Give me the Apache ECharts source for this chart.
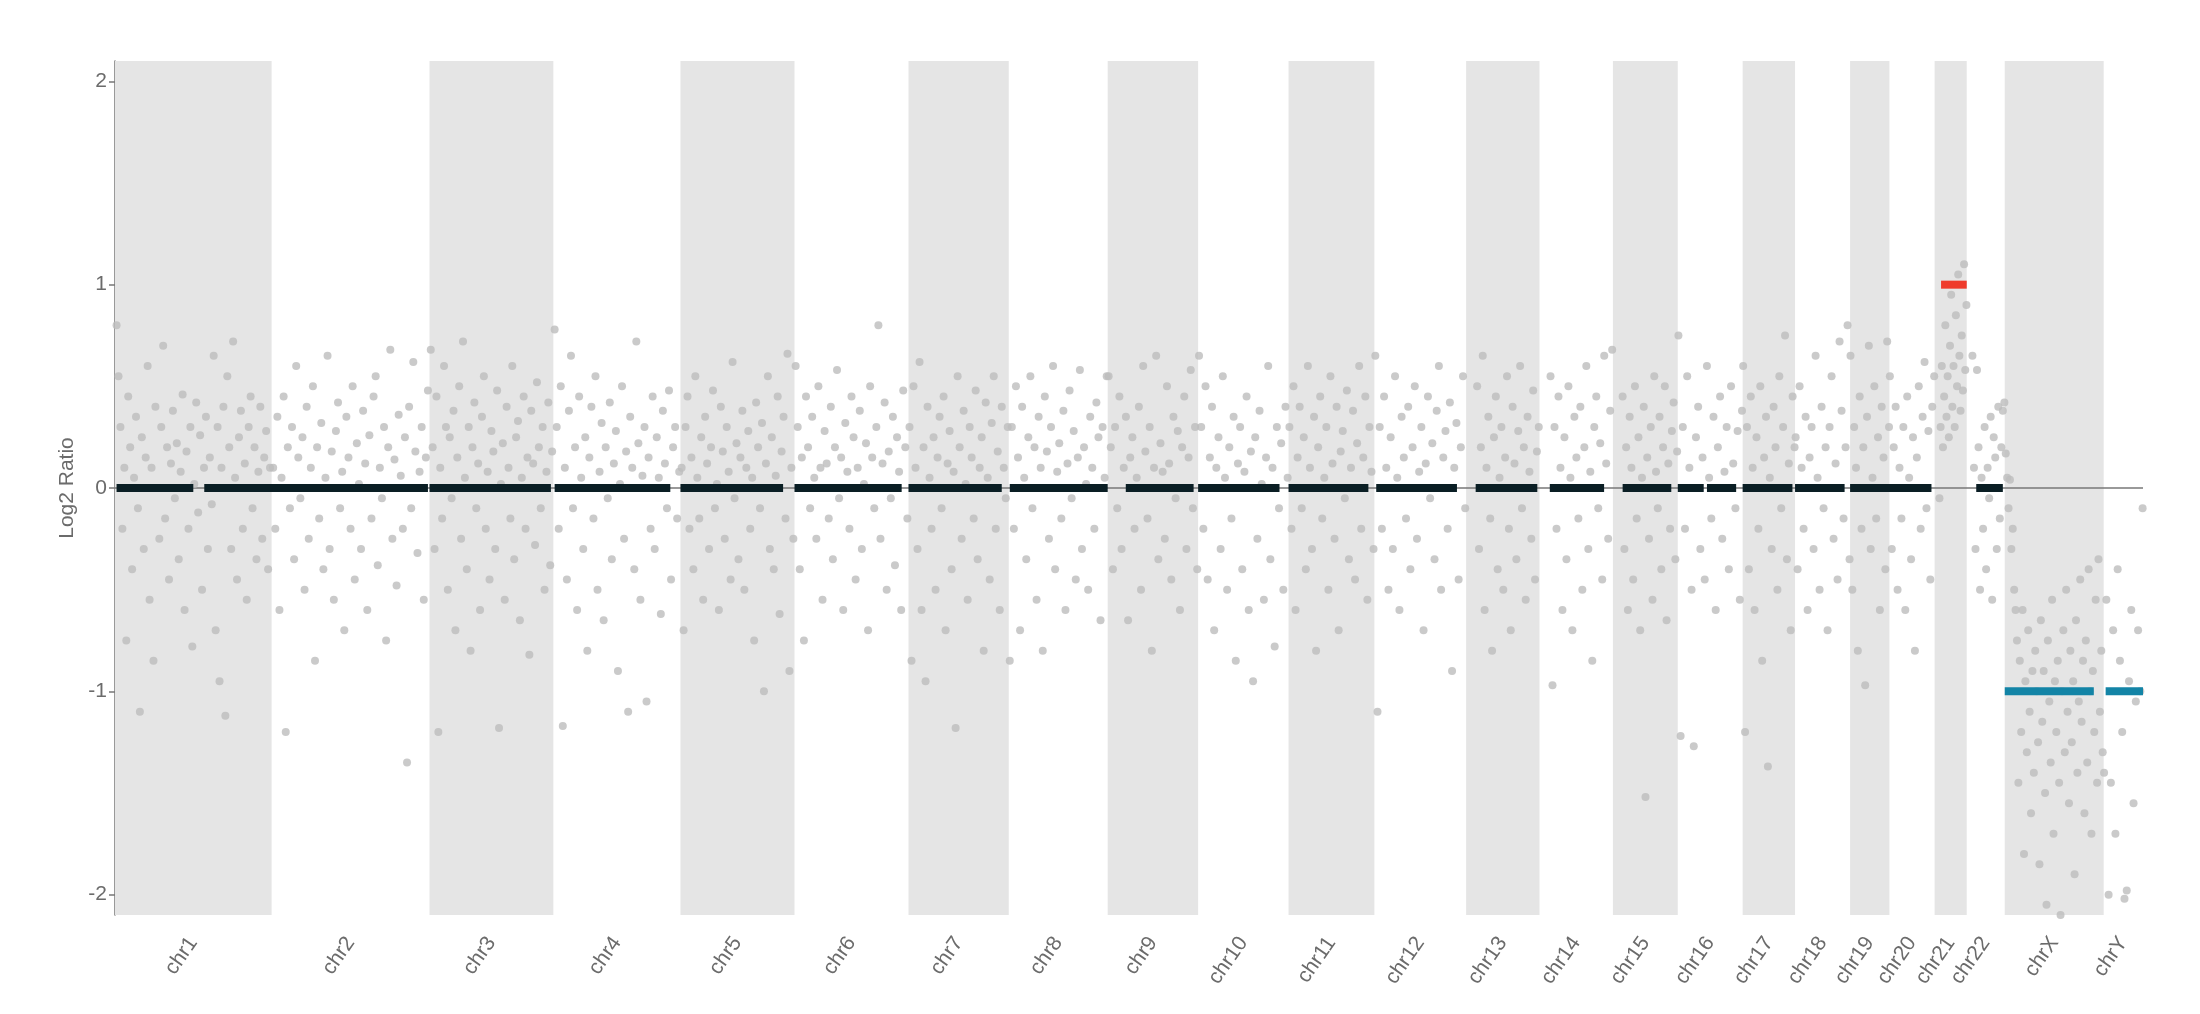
<!DOCTYPE html>
<html><head><meta charset="utf-8">
<script src="https://cdn.jsdelivr.net/npm/echarts@6/dist/echarts.min.js"></script>
<style>html,body{margin:0;padding:0;background:#fff}#c{width:2200px;height:1014px}</style>
</head><body><div id="c"></div>
<script>
const chromNames = ['chr1','chr2','chr3','chr4','chr5','chr6','chr7','chr8','chr9','chr10','chr11','chr12','chr13','chr14','chr15','chr16','chr17','chr18','chr19','chr20','chr21','chr22','chrX','chrY'];
const chromLengths = [239,241,189,194,174,174,153,151,138,138,131,140,112,112,99,99,80,84,60,69,49,58,151,60];
const yTicks = [-2,-1,0,1,2];
// segments: [chrom index, start fraction, end fraction, log2 value]
const segmentsNormal = [[0,0.01,0.5],[0,0.57,1],[1,0,0.99],[2,0,0.98],[3,0.01,0.92],[4,0,0.9],[5,0,0.94],[6,0,0.93],[7,0.01,1],[8,0.2,0.95],[9,0,0.9],[10,0,0.93],[11,0.02,0.9],[12,0.13,0.97],[13,0.14,0.88],[14,0.15,0.9],[15,0,0.4],[15,0.45,0.9],[16,0,0.95],[17,0,0.9],[18,0,1],[19,0,0.93],[21,0.25,0.95]];
const segmentsGain = [[20,0.2,1.0,1.0]];
const segmentsLoss = [[22,0,0.9,-1],[23,0.05,1,-1]];
const v1=[0.8,0.55,0.3,-0.2,0.1,-0.75,0.45,0.2,-0.4,0.05,0.35,-0.1,-1.1,0.25,-0.3,0.15,0.6,-0.55,0.1,-0.85,0.4,0.0,-0.25,0.3,0.7,-0.15,0.2,-0.45,0.12,0.38,-0.05,0.22,-0.35,0.08,0.46,-0.6,0.18,-0.2,0.3,-0.78,0.02,0.42,-0.12,0.26,-0.5,0.1,0.35,-0.3,0.15,-0.08,0.65,-0.7,0.3,-0.95,0.1,0.4,-1.12,0.55,0.2,-0.3,0.72,0.05,-0.45,0.25,0.38,-0.2,0.12,-0.55,0.3,0.45,-0.1,0.2,-0.35,0.08,0.4,-0.25,0.15,0.28,-0.4,0.1];
const v2=[0.1,-0.2,0.35,-0.6,0.05,0.45,-1.2,0.2,-0.1,0.3,-0.35,0.6,0.15,-0.05,0.25,-0.5,0.4,-0.25,0.1,0.5,-0.85,0.2,-0.15,0.32,-0.4,0.05,0.65,-0.3,0.18,-0.55,0.28,0.42,-0.1,0.08,-0.7,0.35,0.15,-0.2,0.5,-0.45,0.22,0.02,-0.3,0.38,0.12,-0.6,0.26,-0.15,0.45,0.55,-0.38,0.1,-0.05,0.3,-0.75,0.2,0.68,-0.25,0.14,-0.48,0.36,0.06,-0.2,0.25,-1.35,0.4,-0.1,0.62,0.18,-0.32,0.08,0.3,-0.55,0.15,0.48];
const v3=[0.68,0.2,-0.3,0.45,-1.2,0.1,-0.15,0.6,0.3,-0.5,0.25,-0.05,0.38,-0.7,0.15,0.5,-0.25,0.72,0.05,-0.4,0.3,-0.8,0.2,0.42,-0.1,0.12,-0.6,0.35,0.55,-0.2,0.08,-0.45,0.28,0.18,-0.3,0.48,-1.18,0.02,0.22,-0.55,0.4,0.1,-0.15,0.6,-0.35,0.25,0.33,-0.65,0.05,0.45,-0.2,0.15,-0.82,0.38,0.12,-0.28,0.52,0.2,-0.1,0.3,-0.5,0.08,0.42,-0.38,0.18];
const v4=[0.78,0.3,-0.2,0.5,-1.17,0.1,-0.45,0.38,0.65,-0.1,0.2,-0.6,0.45,0.05,-0.3,0.25,-0.8,0.15,0.4,-0.15,0.55,-0.5,0.08,0.32,-0.65,0.2,-0.05,0.42,-0.35,0.12,0.28,-0.9,0.02,0.5,-0.25,0.18,-1.1,0.35,0.1,-0.4,0.72,0.22,-0.55,0.06,0.3,-1.05,0.15,-0.2,0.45,-0.3,0.25,0.05,-0.62,0.38,0.12,-0.1,0.48,-0.45,0.2,0.3,-0.15,0.08];
const v5=[0.1,-0.7,0.3,0.45,-0.2,0.15,-0.4,0.55,0.05,-0.15,0.25,-0.55,0.35,0.12,-0.3,0.2,0.48,-0.1,0.02,-0.6,0.4,0.18,-0.25,0.3,0.08,-0.45,0.62,-0.05,0.22,-0.35,0.15,0.38,-0.5,0.1,0.28,-0.2,0.05,-0.75,0.42,0.2,-0.1,0.32,-1.0,0.12,0.55,-0.3,0.25,-0.4,0.06,0.45,-0.62,0.18,0.35,-0.15,0.66,-0.9,0.1,-0.25];
const v6=[0.6,0.3,-0.4,0.15,-0.75,0.45,0.2,-0.1,0.35,0.05,-0.25,0.5,0.1,-0.55,0.28,0.12,-0.15,0.4,-0.35,0.2,0.58,-0.05,0.15,-0.6,0.32,0.08,-0.2,0.45,0.25,-0.45,0.1,0.38,-0.3,0.02,0.22,-0.7,0.5,0.15,-0.1,0.3,0.8,-0.25,0.12,0.42,-0.5,0.18,-0.05,0.35,-0.38,0.25,0.08,-0.6,0.48,0.2,-0.15];
const v7=[0.3,-0.85,0.5,0.1,-0.3,0.62,-0.6,0.2,-0.95,0.4,0.05,-0.2,0.25,-0.5,0.15,0.35,-0.1,0.45,-0.7,0.12,0.28,-0.4,0.08,-1.18,0.55,0.2,-0.25,0.38,0.02,-0.55,0.3,0.15,-0.15,0.48,-0.35,0.1,0.25,-0.8,0.42,0.05,-0.45,0.32,0.55,-0.2,0.18,-0.6,0.4,0.1,-0.05,0.3];
const v8=[-0.85,0.3,-0.2,0.5,0.15,-0.7,0.4,0.05,-0.35,0.25,0.55,-0.1,0.2,-0.55,0.35,0.1,-0.8,0.45,0.18,-0.25,0.3,0.6,-0.4,0.08,0.22,-0.15,0.38,-0.6,0.12,0.48,-0.05,0.28,-0.45,0.15,0.58,-0.3,0.2,0.02,-0.5,0.35,0.1,-0.2,0.42,0.25,-0.65,0.3,0.05,0.55];
const v9=[0.55,0.2,-0.4,0.3,-0.1,0.45,-0.3,0.1,0.35,-0.65,0.15,0.25,-0.2,0.05,0.4,-0.5,0.6,0.18,-0.15,0.3,-0.8,0.1,0.65,-0.35,0.22,0.08,-0.25,0.5,0.12,-0.45,0.35,-0.05,0.28,-0.6,0.2,0.45,-0.3,0.15,0.58,-0.1,0.3,-0.4];
const v10=[0.65,0.3,-0.2,0.5,-0.45,0.15,0.4,-0.7,0.1,0.25,-0.3,0.55,0.05,-0.5,0.2,-0.15,0.35,-0.85,0.12,0.3,-0.4,0.08,0.45,-0.6,0.18,-0.95,0.25,-0.25,0.38,0.02,-0.55,0.15,0.6,-0.35,0.1,-0.78,0.3,-0.1,0.22,-0.5,0.4,0.05];
const v11=[0.3,-0.2,0.5,-0.6,0.15,0.4,-0.1,0.25,-0.4,0.6,0.1,-0.3,0.35,-0.8,0.2,0.45,-0.15,0.05,0.3,-0.5,0.55,0.12,-0.25,0.4,-0.7,0.18,0.28,-0.05,0.48,-0.35,0.1,0.38,-0.45,0.22,0.6,-0.2,0.15,0.45,-0.55,0.3,0.08,-0.3];
const v12=[0.65,-1.1,0.3,-0.2,0.45,0.1,-0.5,0.25,-0.3,0.55,0.05,-0.6,0.35,0.15,-0.15,0.4,-0.4,0.2,0.5,-0.25,0.08,0.3,-0.7,0.12,0.45,-0.05,0.22,-0.35,0.38,0.6,-0.5,0.15,0.28,-0.2,0.42,-0.9,0.1,0.32,-0.45,0.2,0.55,-0.1];
const v13=[0.5,-0.3,0.2,0.65,-0.6,0.1,0.35,-0.15,-0.8,0.25,0.45,-0.4,0.05,0.3,-0.5,0.15,0.55,-0.2,-0.7,0.4,0.12,-0.35,0.28,0.6,-0.1,0.2,-0.55,0.35,0.08,-0.25,0.48,-0.45,0.18,0.3];
const v14=[0.55,-0.97,0.3,-0.2,0.45,0.1,-0.6,0.25,-0.35,0.5,0.05,-0.7,0.35,0.15,-0.15,0.4,-0.5,0.2,0.6,-0.3,0.08,-0.85,0.3,0.45,-0.1,0.22,-0.45,0.65,0.12,-0.25,0.38,0.68];
const v15=[0.45,-0.3,0.2,-0.6,0.35,0.1,-0.45,0.5,-0.15,0.25,-0.7,0.05,0.4,-1.52,0.15,-0.25,0.3,-0.55,0.55,0.08,-0.1,0.35,-0.4,0.2,0.5,-0.65,0.12,-0.2,0.28,0.42,-0.35,0.18];
const v16=[0.75,-1.22,0.3,-0.2,0.55,0.1,-0.5,-1.27,0.25,0.4,-0.3,0.15,-0.45,0.6,0.05,-0.15,0.35,-0.6,0.2,0.45,-0.25,0.08,0.3,-0.4,0.5,0.12,-0.1,0.28,-0.55,0.38];
const v17=[0.6,-1.2,0.3,-0.4,0.45,0.1,-0.6,0.25,-0.2,0.5,-0.85,0.15,0.35,-1.37,0.05,-0.3,0.4,0.2,-0.5,0.55,-0.1,0.3,0.75,-0.35,0.12,-0.7,0.45,0.2];
const v18=[0.25,-0.4,0.5,0.1,-0.2,0.35,-0.6,0.15,0.3,-0.3,0.65,0.05,-0.5,0.4,-0.1,0.2,-0.7,0.3,0.55,-0.25,0.12,-0.45,0.72,0.38,-0.15,0.2,0.8,-0.35];
const v19=[0.65,-0.5,0.3,0.1,-0.8,0.45,-0.2,0.2,-0.97,0.35,0.7,-0.3,0.05,0.5,-0.15,0.25,-0.6,0.4,0.15,-0.4,0.72,0.3];
const v20=[0.55,-0.3,0.2,0.4,-0.5,0.1,-0.15,0.3,-0.6,0.45,0.05,-0.35,0.25,-0.8,0.15,0.5,-0.2,0.35,0.62,-0.1,0.28,-0.45,0.4,0.55];
const v21=[-0.05,0.3,0.6,0.2,0.45,0.8,0.35,0.55,0.25,0.7,0.95,0.4,0.6,0.3,0.85,0.5,1.05,0.65,0.38,0.75,0.48,1.1,0.58,0.9];
const v22=[0.65,0.1,-0.3,0.58,0.2,-0.5,0.05,-0.2,0.3,-0.4,0.1,-0.05,0.35,-0.55,0.25,0.15,-0.3,0.4,-0.15,0.2,0.38,0.42];
const vX=[0.17,0.05,-0.1,0.04,-0.3,-0.2,-0.5,-0.6,-0.75,-1.45,-0.85,-1.2,-0.6,-1.8,-0.95,-1.3,-0.7,-1.1,-1.6,-0.9,-1.4,-0.8,-1.0,-1.25,-1.85,-0.65,-1.15,-0.9,-1.5,-2.05,-0.75,-1.05,-1.35,-0.55,-1.7,-0.95,-1.2,-0.85,-1.45,-2.1,-1.0,-0.7,-1.3,-0.5,-1.1,-1.55,-0.8,-1.25,-0.95,-1.9,-0.65,-1.4,-1.05,-0.45,-1.15,-0.85,-1.6,-0.75,-1.35,-0.4,-1.0,-1.7,-0.9,-1.2,-0.55,-1.45,-0.35,-1.1,-0.8,-1.3];
const vY=[-1.4,-0.55,-2.0,-1.45,-0.7,-1.7,-0.4,-0.85,-1.2,-2.02,-1.98,-0.95,-0.6,-1.55,-1.05,-0.7,-1.0,-0.1];
const binValues=[v1,v2,v3,v4,v5,v6,v7,v8,v9,v10,v11,v12,v13,v14,v15,v16,v17,v18,v19,v20,v21,v22,vX,vY];

const starts=[]; let acc=0;
chromLengths.forEach(l=>{starts.push(acc);acc+=l;});
const total=acc;
const acro=new Set([12,13,14,20,21]);
const points=[];
binValues.forEach((vals,ci)=>{
  const s0=acro.has(ci)?0.15:0.01, s1=0.99, n=vals.length;
  vals.forEach((v,i)=>{
    const f=s0+(s1-s0)*(n===1?0.5:i/(n-1));
    points.push([starts[ci]+f*chromLengths[ci],v]);
  });
});
function segData(list,defY){
  const d=[];
  list.forEach(s=>{const ci=s[0],y=s.length>3?s[3]:defY;
    d.push([starts[ci]+s[1]*chromLengths[ci],y]);d.push([starts[ci]+s[2]*chromLengths[ci],y]);d.push(null);});
  return d;
}
const bands=[];
chromNames.forEach((n,i)=>{ if(i%2===0 && i<23) bands.push([{xAxis:starts[i]},{xAxis:starts[i]+chromLengths[i]}]); });
const centers=chromNames.map((n,i)=>starts[i]+chromLengths[i]/2);
const centerName={}; centers.forEach((c,i)=>centerName[c.toFixed(3)]=chromNames[i]);

const chart=echarts.init(document.getElementById('c'));
const font='"Liberation Sans", Arial, sans-serif';
chart.setOption({
  animation:false,
  grid:{left:115,right:57,top:61,bottom:99},
  xAxis:{type:'value',min:0,max:total,
    axisLine:{show:false},axisTick:{show:false},splitLine:{show:false},
    axisLabel:{customValues:centers,rotate:55,margin:24,color:'#6b6b6b',fontSize:21,fontFamily:font,
      formatter:v=>centerName[v.toFixed(3)]||''}},
  yAxis:{type:'value',min:-2.1,max:2.1,
    name:'Log2 Ratio',nameLocation:'middle',nameGap:36,nameTextStyle:{color:'#6b6b6b',fontSize:21,fontFamily:font},
    axisLine:{show:true,lineStyle:{color:'#777',width:1.5}},
    axisTick:{show:true,customValues:yTicks,length:6,lineStyle:{color:'#777',width:1.5}},
    axisLabel:{customValues:yTicks,color:'#6b6b6b',fontSize:21,fontFamily:font},
    splitLine:{show:false}},
  series:[
    {type:'line',data:[],silent:true,z:1,
      markArea:{silent:true,itemStyle:{color:'#e5e5e5'},data:bands},
      markLine:{silent:true,z:1,symbol:'none',label:{show:false},lineStyle:{color:'#777',width:1.5,type:'solid'},data:[{yAxis:0}]}},
    {type:'scatter',data:points,symbolSize:8,itemStyle:{color:'#bdbdbd'},z:3},
    {type:'line',data:segData(segmentsNormal,0),showSymbol:false,connectNulls:false,lineStyle:{color:'#0a1e24',width:8,cap:'butt'},z:5},
    {type:'line',data:segData(segmentsGain,1),showSymbol:false,connectNulls:false,lineStyle:{color:'#ef3b2c',width:8,cap:'butt'},z:5},
    {type:'line',data:segData(segmentsLoss,-1),showSymbol:false,connectNulls:false,lineStyle:{color:'#1384a6',width:8,cap:'butt'},z:5}
  ]
});
</script></body></html>
